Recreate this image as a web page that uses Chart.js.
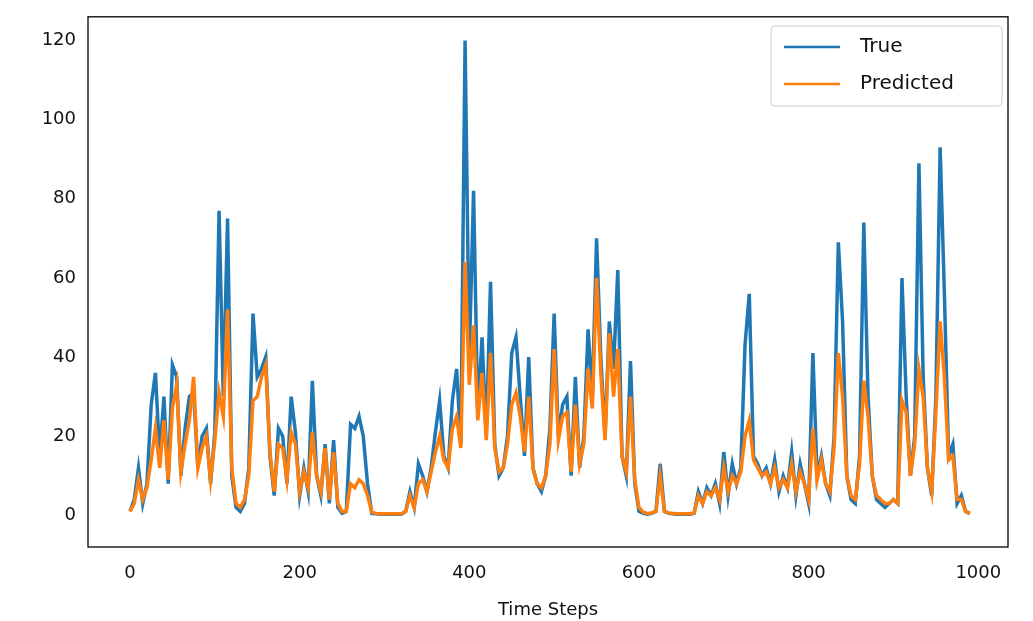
<!DOCTYPE html>
<html><head><meta charset="utf-8">
<script src="https://cdn.jsdelivr.net/npm/chart.js@4/dist/chart.umd.min.js"></script>
<style>html,body{margin:0;padding:0;background:#fff}#w{width:1033px;height:621px}</style>
</head><body><div id="w"><canvas id="c"></canvas></div>
<script>
const steps = [];
for (let i = 0; i <= 990; i += 5) steps.push(i);
const trueVals = [1,4,12,3,8,28,36,15,30,8,38,35,10,22,30,31,12,20,22,8,21,77,30,75,10,2,1,3,12,51,35,37,40,15,5,22,20,8,30,21,5,12,6,34,10,5,18,3,19,2,0.5,1,23,22,25,20,8,0.5,0.4,0.3,0.3,0.3,0.3,0.3,0.3,1,6,2,13,10,6,12,21,29,15,12,29,37,18,120,40,82,25,45,20,59,18,10,12,20,41,45,30,15,40,12,8,6,10,22,51,20,28,30,10,35,12,20,47,30,70,40,20,49,37,62,15,10,39,8,1,0.5,0.3,0.5,1,13,1,0.5,0.4,0.3,0.3,0.3,0.3,0.5,6,3,7,5,8,3,16,5,13,8,12,43,56,15,13,10,12,8,14,6,10,7,16,5,13,8,3,41,10,15,8,5,20,69,49,10,4,3,15,74,30,10,4,3,2,3,4,3,60,30,10,20,89,35,12,5,30,93,56,15,18,3,5,1,0.5];
const predVals = [1,3,9,4,7,14,22,12,24,9,27,33,11,18,24,35,12,17,20,9,19,31,25,52,12,3,2,4,10,29,30,35,38,16,6,18,17,9,21,18,6,11,7,21,10,6,17,4,16,3,1,1,8,7,9,8,5,0.8,0.5,0.4,0.4,0.4,0.4,0.4,0.4,1,5,2,8,9,6,11,16,20,14,12,22,25,17,64,33,48,24,36,19,41,17,11,12,18,28,31,25,16,30,12,8,7,10,18,42,19,25,26,11,28,13,18,37,27,60,36,19,46,30,42,15,11,30,9,2,0.8,0.5,0.6,1,10,1,0.6,0.5,0.4,0.4,0.4,0.4,0.6,5,3,6,5,7,4,12,6,10,8,11,20,24,14,12,10,11,8,12,7,9,7,13,6,11,8,4,22,9,14,8,6,17,41,30,10,5,4,13,34,25,10,5,4,3,3,4,3,29,26,10,18,37,30,12,6,26,49,35,14,15,4,4,1,0.5];
const yTicks = [0,20,40,60,80,100,120];
const xTicks = [0,200,400,600,800,1000];

const toXY = v => steps.map((s,i)=>({x:s,y:v[i]}));
const font = {family:'"DejaVu Sans"', size:18};
const framePlugin = {
  id:'frame',
  afterDraw(ch){
    const {ctx, chartArea:a} = ch;
    ctx.save();
    ctx.strokeStyle='#000'; ctx.lineWidth=1.3;
    ctx.strokeRect(a.left, a.top, a.right-a.left, a.bottom-a.top);
    const lx=771, ly=26, lw=231, lh=80;
    ctx.fillStyle='rgba(255,255,255,0.8)';
    ctx.strokeStyle='#ccc'; ctx.lineWidth=1;
    ctx.beginPath(); ctx.roundRect(lx,ly,lw,lh,4); ctx.fill(); ctx.stroke();
    ctx.font='20px "DejaVu Sans"'; ctx.textBaseline='middle'; ctx.fillStyle='#111';
    [['True','#1f77b4',47],['Predicted','#ff7f0e',84]].forEach(([t,c,y])=>{
      ctx.strokeStyle=c; ctx.lineWidth=2.5;
      ctx.beginPath(); ctx.moveTo(784,y); ctx.lineTo(840,y); ctx.stroke();
      ctx.fillText(t,860,y);
    });
    ctx.restore();
  }
};
new Chart(document.getElementById('c'), {
  type:'line',
  data:{datasets:[
    {label:'True', data:toXY(trueVals), borderColor:'#1f77b4', borderWidth:3.5, pointRadius:0, tension:0, order:2},
    {label:'Predicted', data:toXY(predVals), borderColor:'#ff7f0e', borderWidth:3.5, pointRadius:0, tension:0, order:1}
  ]},
  options:{
    responsive:true, maintainAspectRatio:false, animation:false,
    layout:{padding:{top:14,right:25,left:0,bottom:0}},
    plugins:{legend:{display:false}, tooltip:{enabled:false}},
    scales:{
      x:{type:'linear', min:-49.5, max:1035,
        afterBuildTicks:s=>{s.ticks=xTicks.map(v=>({value:v}));},
        afterFit:s=>{s.height=74;},
        grid:{display:false, drawTicks:true, tickLength:6, tickColor:'#000'},
        border:{display:false},
        ticks:{font, color:'#111', maxRotation:0, padding:10, callback:v=>String(v)},
        title:{display:true, text:'Time Steps', font, color:'#111', padding:{top:0,bottom:0}}
      },
      y:{min:-8, max:126,
        afterBuildTicks:s=>{s.ticks=yTicks.map(v=>({value:v}));},
        afterFit:s=>{s.width=88;},
        grid:{display:false, drawTicks:true, tickLength:6, tickColor:'#000'},
        border:{display:false},
        ticks:{font, color:'#111', padding:6}
      }
    }
  },
  plugins:[framePlugin]
});
</script></body></html>
